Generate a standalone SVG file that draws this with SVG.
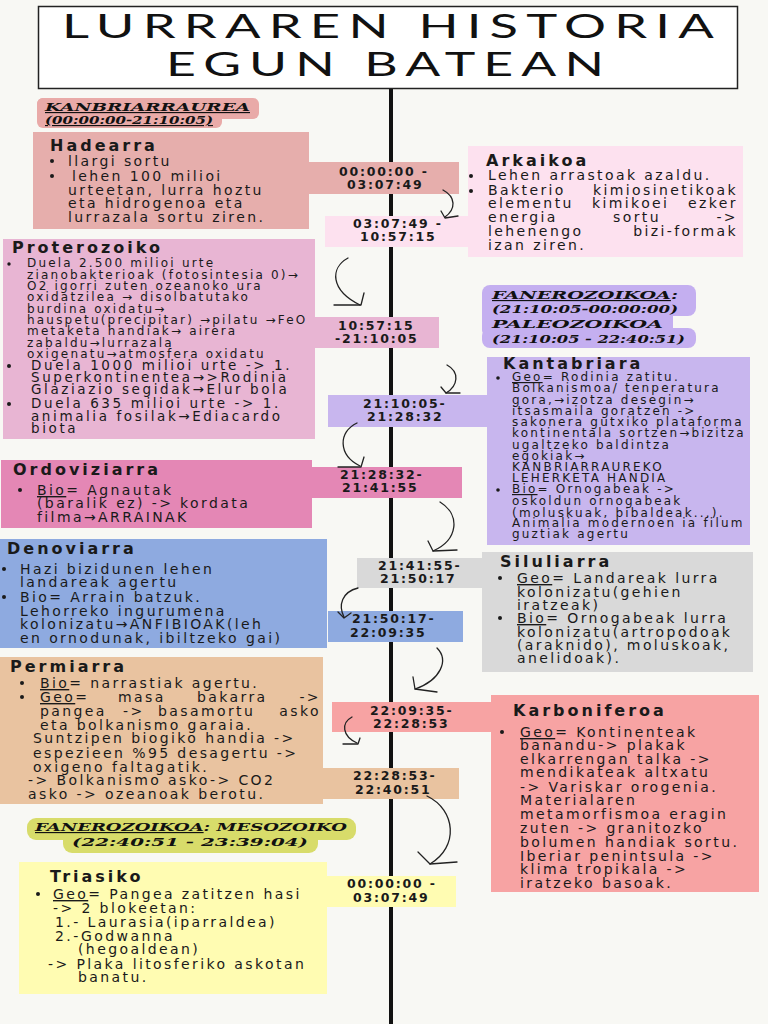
<svg xmlns="http://www.w3.org/2000/svg" width="768" height="1024" viewBox="0 0 768 1024">
<style>
.f{font-family:"DejaVu Sans","Liberation Sans",sans-serif;fill:#1a1a1a}
.h{font-weight:bold;font-size:16px;letter-spacing:3px}
.b{font-size:14px;letter-spacing:2.4px}
.s{font-size:12px;letter-spacing:2.2px}
.m{font-size:13.5px;letter-spacing:2.6px}
.tm{font-weight:bold;font-size:12.5px;letter-spacing:1.8px}
.lab{font-family:"DejaVu Serif","Liberation Serif",serif;font-weight:bold;font-style:italic;font-size:11.5px;fill:#111}
.ttl{font-family:Lato,"Liberation Sans",sans-serif;font-weight:400;font-size:32px;letter-spacing:5px;fill:#111}
.u{text-decoration:underline}
.e{text-anchor:end}
.arr{fill:none;stroke:#222;stroke-width:1.3;stroke-linecap:round;stroke-linejoin:round}
.dot{fill:#1a1a1a}
</style>
<rect x="0" y="0" width="768" height="1024" fill="#f8f8f4"/>

<g id="timeline">
<line x1="391" y1="89" x2="391" y2="1024" stroke="#111" stroke-width="4"/>
</g>

<g id="title">
<rect x="38.5" y="6.5" width="699" height="82" fill="#ffffff" stroke="#222" stroke-width="1.5"/>
<text class="ttl" x="62" y="38" textLength="660" lengthAdjust="spacingAndGlyphs">LURRAREN HISTORIA</text>
<text class="ttl" x="166" y="76" textLength="446" lengthAdjust="spacingAndGlyphs">EGUN BATEAN</text>
</g>

<g id="kanbriarraurea">
<rect x="37" y="98" width="222" height="21" rx="6" fill="#e9aaa8"/>
<rect x="37" y="98" width="185" height="30" rx="6" fill="#e9aaa8"/>
<text class="lab u" x="45" y="111" textLength="205" lengthAdjust="spacingAndGlyphs">KANBRIARRAUREA</text>
<text class="lab u" x="45" y="124" textLength="168" lengthAdjust="spacingAndGlyphs">(00:00:00-21:10:05)</text>
</g>

<g id="hadearra">
<rect x="33" y="132" width="276" height="97" fill="#e6aeac"/>
<text class="f h" x="50" y="151">Hadearra</text>
<circle class="dot" cx="52" cy="161" r="2"/>
<circle class="dot" cx="52" cy="176" r="2"/>
<text class="f b"><tspan x="68" y="166">llargi sortu</tspan><tspan x="72" y="181">lehen 100 milioi</tspan><tspan x="68" y="195">urteetan, lurra hoztu</tspan><tspan x="68" y="208">eta hidrogenoa eta</tspan><tspan x="68" y="222">lurrazala sortu ziren.</tspan></text>
</g>

<g id="t-hadearra">
<rect x="309" y="162" width="150" height="32" fill="#e6aeac"/>
<text class="f tm"><tspan x="339" y="175.5">00:00:00 -</tspan><tspan x="347" y="189">03:07:49</tspan></text>
</g>

<g id="arkaikoa">
<rect x="468" y="146" width="275" height="111" fill="#fde1ef"/>
<text class="f h" x="486" y="166">Arkaikoa</text>
<circle class="dot" cx="471" cy="176" r="2"/>
<circle class="dot" cx="471" cy="191" r="2"/>
<text class="f b"><tspan x="488" y="180">Lehen arrastoak azaldu.</tspan><tspan x="488" y="195">Bakterio</tspan><tspan class="e" x="738" y="195">kimiosinetikoak</tspan><tspan x="488" y="208">elementu</tspan><tspan x="592" y="208">kimikoei</tspan><tspan class="e" x="738" y="208">ezker</tspan><tspan x="488" y="222">energia</tspan><tspan x="613" y="222">sortu</tspan><tspan class="e" x="738" y="222">-&gt;</tspan><tspan x="488" y="236">lehenengo</tspan><tspan class="e" x="738" y="236">bizi-formak</tspan><tspan x="488" y="250">izan ziren.</tspan></text>
</g>

<g id="t-arkaikoa">
<rect x="325" y="216" width="143" height="31" fill="#fde1ef"/>
<text class="f tm"><tspan x="353" y="227.5">03:07:49 -</tspan><tspan x="360" y="241">10:57:15</tspan></text>
</g>

<g id="proterozoiko">
<rect x="3" y="239" width="312" height="200" fill="#e8b5d3"/>
<text class="f h" x="12" y="253">Proterozoiko</text>
<circle class="dot" cx="9" cy="264" r="1.7"/>
<circle class="dot" cx="9" cy="366" r="2"/>
<circle class="dot" cx="9" cy="404" r="2"/>
<text class="f s"><tspan x="27" y="267">Duela 2.500 milioi urte</tspan><tspan x="27" y="279">zianobakterioak (fotosintesia 0)→</tspan><tspan x="27" y="290">O2 igorri zuten ozeanoko ura</tspan><tspan x="27" y="301">oxidatzilea → disolbatutako</tspan><tspan x="27" y="313">burdina oxidatu→</tspan><tspan x="27" y="324">hauspetu(precipitar) →pilatu →FeO</tspan><tspan x="27" y="335">metaketa handiak→ airera</tspan><tspan x="27" y="347">zabaldu→lurrazala</tspan><tspan x="27" y="358">oxigenatu→atmosfera oxidatu</tspan></text>
<text class="f m"><tspan x="31" y="370">Duela 1000 milioi urte -&gt; 1.</tspan><tspan x="31" y="382">Superkontinentea→&gt;Rodinia</tspan><tspan x="31" y="394">Glaziazio segidak→Elur bola</tspan><tspan x="31" y="408">Duela 635 milioi urte -&gt; 1.</tspan><tspan x="31" y="421">animalia fosilak→Ediacardo</tspan><tspan x="31" y="433">biota</tspan></text>
</g>

<g id="t-proterozoiko">
<rect x="315" y="317" width="124" height="31" fill="#e8b5d3"/>
<text class="f tm"><tspan x="338" y="329.5">10:57:15</tspan><tspan x="335" y="342.5">-21:10:05</tspan></text>
</g>

<g id="fanerozoikoa">
<rect x="482" y="285" width="214" height="31" rx="8" fill="#c4aff0"/>
<rect x="482" y="300" width="191" height="34" rx="4" fill="#c4aff0"/>
<rect x="482" y="328" width="214" height="20" rx="8" fill="#c4aff0"/>
<text class="lab" x="492" y="299" textLength="186" lengthAdjust="spacingAndGlyphs"><tspan class="u">FANEROZOIKOA</tspan>:</text>
<text class="lab" x="492" y="313" textLength="186" lengthAdjust="spacingAndGlyphs">(21:10:05-00:00:00)</text>
<text class="lab" x="492" y="328" textLength="171" lengthAdjust="spacingAndGlyphs">PALEOZOIKOA</text>
<text class="lab" x="492" y="343" textLength="193" lengthAdjust="spacingAndGlyphs">(21:10:05 - 22:40:51)</text>
</g>

<g id="kantabriara">
<rect x="487" y="357" width="263" height="188" fill="#c8b6ee"/>
<text class="f h" x="503" y="369">Kantabriara</text>
<circle class="dot" cx="498" cy="378" r="1.8"/>
<circle class="dot" cx="498" cy="490" r="1.8"/>
<text class="f s"><tspan x="512" y="381"><tspan class="u">Geo</tspan>= Rodinia zatitu.</tspan><tspan x="512" y="392">Bolkanismoa/ tenperatura</tspan><tspan x="512" y="404">gora,→izotza desegin→</tspan><tspan x="512" y="415">itsasmaila goratzen -&gt;</tspan><tspan x="512" y="426">sakonera gutxiko plataforma</tspan><tspan x="512" y="437">kontinentala sortzen→bizitza</tspan><tspan x="512" y="449">ugaltzeko baldintza</tspan><tspan x="512" y="460">egokiak→</tspan><tspan x="512" y="471">KANBRIARRAUREKO</tspan><tspan x="512" y="482">LEHERKETA HANDIA</tspan><tspan x="512" y="493"><tspan class="u">Bio</tspan>= Ornogabeak -&gt;</tspan><tspan x="512" y="505">oskoldun ornogabeak</tspan><tspan x="512" y="517">(moluskuak, bibaldeak...).</tspan><tspan x="512" y="527">Animalia modernoen ia filum</tspan><tspan x="512" y="538">guztiak agertu</tspan></text>
</g>

<g id="t-kantabriara">
<rect x="328" y="395" width="159" height="32" fill="#c8b6ee"/>
<text class="f tm"><tspan x="363" y="407.5">21:10:05-</tspan><tspan x="367" y="421">21:28:32</tspan></text>
</g>

<g id="ordoviziarra">
<rect x="1" y="460" width="311" height="68" fill="#e487b5"/>
<text class="f h" x="13" y="475">Ordoviziarra</text>
<circle class="dot" cx="20" cy="490" r="2"/>
<text class="f b"><tspan x="37" y="495"><tspan class="u">Bio</tspan>= Agnautak</tspan><tspan x="37" y="508">(baralik ez) -&gt; kordata</tspan><tspan x="37" y="522">filma→ARRAINAK</tspan></text>
</g>

<g id="t-ordoviziarra">
<rect x="312" y="467" width="150" height="31" fill="#e487b5"/>
<text class="f tm"><tspan x="340" y="478.5">21:28:32-</tspan><tspan x="342" y="492">21:41:55</tspan></text>
</g>

<g id="denoviarra">
<rect x="0" y="539" width="327" height="109" fill="#8eaae0"/>
<text class="f h" x="7" y="554">Denoviarra</text>
<circle class="dot" cx="4" cy="569" r="2"/>
<circle class="dot" cx="4" cy="597" r="2"/>
<text class="f b"><tspan x="20" y="574">Hazi bizidunen lehen</tspan><tspan x="20" y="587">landareak agertu</tspan><tspan x="20" y="602">Bio= Arrain batzuk.</tspan><tspan x="20" y="616">Lehorreko ingurumena</tspan><tspan x="20" y="629">kolonizatu→ANFIBIOAK(leh</tspan><tspan x="20" y="643">en ornodunak, ibiltzeko gai)</tspan></text>
</g>

<g id="siluliarra">
<rect x="482" y="552" width="271" height="120" fill="#d9d9d9"/>
<text class="f h" x="500" y="567">Siluliarra</text>
<circle class="dot" cx="500" cy="578" r="2"/>
<circle class="dot" cx="500" cy="618" r="2"/>
<text class="f b"><tspan x="517" y="583"><tspan class="u">Geo</tspan>= Landareak lurra</tspan><tspan x="517" y="597">kolonizatu(gehien</tspan><tspan x="517" y="610">iratzeak)</tspan><tspan x="517" y="623"><tspan class="u">Bio</tspan>= Ornogabeak lurra</tspan><tspan x="517" y="637">kolonizatu(artropodoak</tspan><tspan x="517" y="650">(araknido), moluskoak,</tspan><tspan x="517" y="663">anelidoak).</tspan></text>
</g>

<g id="t-siluliarra">
<rect x="357" y="558" width="125" height="30" fill="#d9d9d9"/>
<text class="f tm"><tspan x="378" y="569.5">21:41:55-</tspan><tspan x="380" y="583">21:50:17</tspan></text>
</g>

<g id="t-denoviarra">
<rect x="328" y="611" width="135" height="31" fill="#8eaae0"/>
<text class="f tm"><tspan x="352" y="622.5">21:50:17-</tspan><tspan x="350" y="636.5">22:09:35</tspan></text>
</g>

<g id="permiarra">
<rect x="0" y="657" width="323" height="147" fill="#e9c3a0"/>
<text class="f h" x="10" y="672">Permiarra</text>
<circle class="dot" cx="22" cy="683" r="2"/>
<circle class="dot" cx="22" cy="697" r="2"/>
<text class="f b"><tspan x="40" y="688"><tspan class="u">Bio</tspan>= narrastiak agertu.</tspan><tspan x="40" y="702"><tspan class="u">Geo</tspan>=</tspan><tspan x="118" y="702">masa</tspan><tspan x="197" y="702">bakarra</tspan><tspan class="e" x="321" y="702">-&gt;</tspan><tspan x="40" y="716">pangea</tspan><tspan x="123" y="716">-&gt;</tspan><tspan x="158" y="716">basamortu</tspan><tspan class="e" x="321" y="716">asko</tspan><tspan x="40" y="730">eta bolkanismo garaia.</tspan><tspan x="33" y="743">Suntzipen biogiko handia -&gt;</tspan><tspan x="33" y="758">espezieen %95 desagertu -&gt;</tspan><tspan x="33" y="772">oxigeno faltagatik.</tspan><tspan x="28" y="785">-&gt; Bolkanismo asko-&gt; CO2</tspan><tspan x="28" y="799">asko -&gt; ozeanoak berotu.</tspan></text>
</g>

<g id="t-karboniferoa">
<rect x="332" y="702" width="159" height="30" fill="#f7a3a3"/>
<text class="f tm"><tspan x="370" y="714.5">22:09:35-</tspan><tspan x="373" y="728">22:28:53</tspan></text>
</g>

<g id="karboniferoa">
<rect x="491" y="695" width="268" height="197" fill="#f7a3a3"/>
<text class="f h" x="513" y="716">Karboniferoa</text>
<circle class="dot" cx="502" cy="732" r="2"/>
<text class="f b"><tspan x="520" y="737"><tspan class="u">Geo</tspan>= Kontinenteak</tspan><tspan x="520" y="750">banandu-&gt; plakak</tspan><tspan x="520" y="764">elkarrengan talka -&gt;</tspan><tspan x="520" y="777">mendikateak altxatu</tspan><tspan x="520" y="792">-&gt; Variskar orogenia.</tspan><tspan x="520" y="805">Materialaren</tspan><tspan x="520" y="819">metamorfismoa eragin</tspan><tspan x="520" y="833">zuten -&gt; granitozko</tspan><tspan x="520" y="847">bolumen handiak sortu.</tspan><tspan x="520" y="861">Iberiar penintsula -&gt;</tspan><tspan x="520" y="874">klima tropikala -&gt;</tspan><tspan x="520" y="888">iratzeko basoak.</tspan></text>
</g>

<g id="t-permiarra">
<rect x="323" y="768" width="136" height="31" fill="#e9c3a0"/>
<text class="f tm"><tspan x="353" y="779.5">22:28:53-</tspan><tspan x="355" y="793.5">22:40:51</tspan></text>
</g>

<g id="mesozoiko">
<rect x="27" y="818" width="329" height="22" rx="9" fill="#d8dc6a"/>
<rect x="63" y="826" width="255" height="27" rx="9" fill="#d8dc6a"/>
<text class="lab" x="35" y="831" textLength="312" lengthAdjust="spacingAndGlyphs"><tspan class="u">FANEROZOIKOA</tspan>: MESOZOIKO</text>
<text class="lab" x="72" y="846" textLength="236" lengthAdjust="spacingAndGlyphs">(22:40:51 - 23:39:04)</text>
</g>

<g id="triasiko">
<rect x="19" y="862" width="308" height="132" fill="#fffcb2"/>
<text class="f h" x="50" y="882">Triasiko</text>
<circle class="dot" cx="38" cy="894" r="2"/>
<text class="f b"><tspan x="53" y="899"><tspan class="u">Geo</tspan>= Pangea zatitzen hasi</tspan><tspan x="53" y="913">-&gt; 2 blokeetan:</tspan><tspan x="55" y="927">1.- Laurasia(iparraldea)</tspan><tspan x="55" y="941">2.-Godwanna</tspan><tspan x="78" y="954">(hegoaldean)</tspan><tspan x="48" y="969">-&gt; Plaka litosferiko askotan</tspan><tspan x="78" y="982">banatu.</tspan></text>
</g>

<g id="t-triasiko">
<rect x="327" y="876" width="129" height="31" fill="#fffcb2"/>
<text class="f tm"><tspan x="347" y="887.5">00:00:00 -</tspan><tspan x="353" y="901.5">03:07:49</tspan></text>
</g>

<g id="connectors">
<path class="arr" d="M443,190 C456,197 456,209 445,217"/>
<path class="arr" d="M441,211 L445,218 L458,216"/>
<path class="arr" d="M348,258 C330,268 330,290 360,305"/>
<path class="arr" d="M334,305 L361,305 L364,293"/>
<path class="arr" d="M447,365 C460,372 458,386 446,393"/>
<path class="arr" d="M441,387 L446,393 L460,393"/>
<path class="arr" d="M357,423 C338,432 338,455 360,466"/>
<path class="arr" d="M338,467 L361,467 L364,457"/>
<path class="arr" d="M440,502 C461,515 458,540 433,551"/>
<path class="arr" d="M428,541 L433,551 L457,550"/>
<path class="arr" d="M358,588 C342,592 338,605 344,617"/>
<path class="arr" d="M338,612 L344,618 L351,613"/>
<path class="arr" d="M437,648 C449,660 441,680 415,689"/>
<path class="arr" d="M413,677 L415,689 L437,692"/>
<path class="arr" d="M352,717 C341,723 342,736 357,743"/>
<path class="arr" d="M343,744 L358,744 L360,738"/>
<path class="arr" d="M427,796 C456,810 459,847 430,864"/>
<path class="arr" d="M418,852 L430,864 L457,862"/>
</g>
</svg>
